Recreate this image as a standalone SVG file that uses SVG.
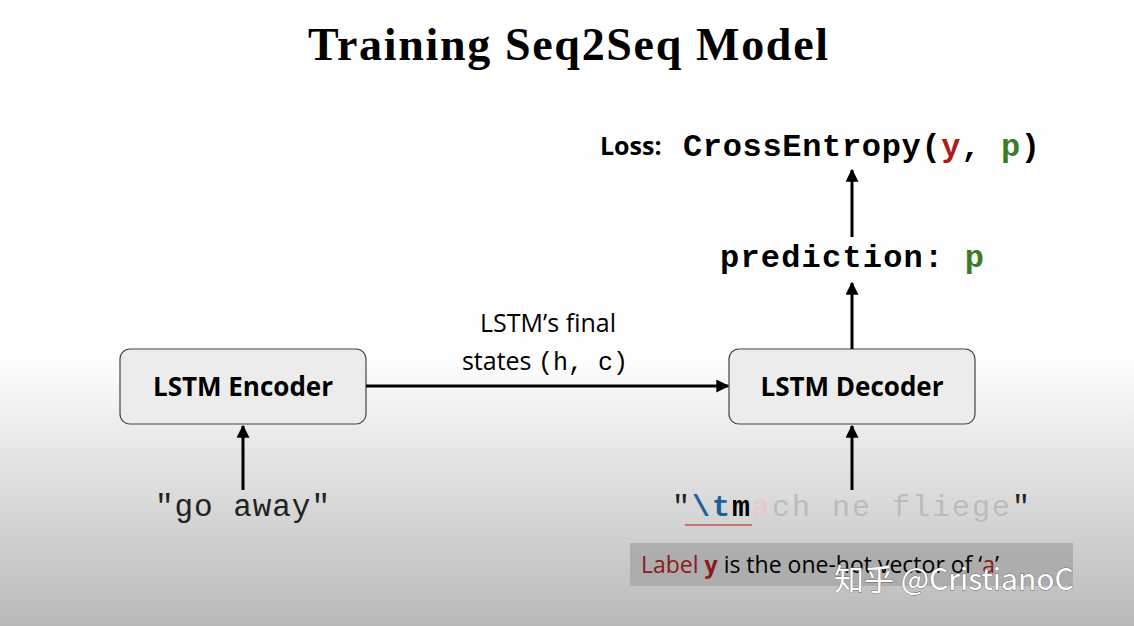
<svg xmlns="http://www.w3.org/2000/svg" width="1134" height="626" viewBox="0 0 1134 626">
<defs>
<linearGradient id="bg" x1="0" y1="0" x2="0" y2="1">
<stop offset="0" stop-color="#fff"/><stop offset="0.58" stop-color="#fdfdfd"/><stop offset="1" stop-color="#b9b9b9"/>
</linearGradient>
<marker id="ah" viewBox="0 0 10 10" refX="9" refY="5" markerWidth="13" markerHeight="13" markerUnits="userSpaceOnUse" orient="auto"><path d="M0,0L10,5L0,10z" fill="#000"/></marker>
<style>
.box{fill:#ececec;stroke:#444;stroke-width:1.2}
.bt{font:bold 26px "Open Sans","Liberation Sans",sans-serif;text-anchor:middle}
.mono{font-family:"Liberation Mono",monospace}
.ln{stroke:#000;stroke-width:3;fill:none;marker-end:url(#ah)}
</style>
</defs>
<rect width="1134" height="626" fill="url(#bg)"/>
<text x="568" y="60" text-anchor="middle" font-family="Liberation Serif,serif" font-weight="bold" font-size="46" textLength="520">Training Seq2Seq Model</text>
<g id="encoder"><rect class="box" x="120" y="349" width="246" height="75" rx="10"/><text class="bt" x="243" y="396">LSTM Encoder</text></g>
<g id="decoder"><rect class="box" x="729" y="349" width="246" height="75" rx="10"/><text class="bt" x="852" y="396">LSTM Decoder</text></g>
<g id="loss"><text x="600" y="155" font-size="25" font-weight="bold" font-family="Open Sans,Liberation Sans,sans-serif">Loss:</text><text x="683" y="156" font-size="32" font-weight="bold" class="mono" textLength="357">CrossEntropy(<tspan fill="#b01c1c">y</tspan>, <tspan fill="#3d7a2a">p</tspan>)</text></g>
<g id="prediction"><text x="720" y="267" font-size="32" font-weight="bold" class="mono" textLength="264">prediction: <tspan fill="#3d7a2a">p</tspan></text></g>
<g id="label-states"><text x="548" y="332" text-anchor="middle" font-family="Open Sans,Liberation Sans,sans-serif" font-size="25">LSTM’s final</text><text x="545" y="370" text-anchor="middle" font-size="25"><tspan font-family="Open Sans,Liberation Sans,sans-serif">states </tspan><tspan class="mono">(h, c)</tspan></text></g>
<g id="input-enc"><text x="155" y="516" class="mono" font-size="31" fill="#222" textLength="175">"go away"</text></g>
<g id="input-dec"><text x="672" y="516" class="mono" font-size="30" fill="#222" textLength="358">"<tspan fill="#1f5f99" font-weight="bold">\t</tspan><tspan font-weight="bold" fill="#000">m</tspan><tspan fill="#e8c8c8">a</tspan><tspan fill="#bbb">ch ne fliege</tspan>"</text>
<line x1="685" y1="525" x2="752" y2="525" stroke="#c0504d" stroke-width="1.5"/></g>
<g id="connectors">
<line class="ln" x1="366" y1="386" x2="728" y2="386"/>
<line class="ln" x1="243" y1="490" x2="243" y2="426"/>
<line class="ln" x1="852" y1="490" x2="852" y2="426"/>
<line class="ln" x1="852" y1="349" x2="852" y2="283"/>
<line class="ln" x1="852" y1="237" x2="852" y2="170"/>
</g>
<g id="caption"><rect x="630" y="543" width="443" height="43" fill="#a8a8a8" opacity="0.85"/>
<text x="641" y="573" font-family="Open Sans,Liberation Sans,sans-serif" font-size="23"><tspan fill="#8b1a1a">Label </tspan><tspan fill="#8b1a1a" font-weight="bold">y</tspan> is the one-hot vector of ‘<tspan fill="#8b1a1a">a</tspan>’</text></g>
<g id="watermark"><text x="834" y="590" font-family="Noto Sans CJK SC,Open Sans,sans-serif" font-size="30" fill="#fff" stroke="#666" stroke-width="0.8" paint-order="stroke">知乎 @CristianoC</text></g>
</svg>
